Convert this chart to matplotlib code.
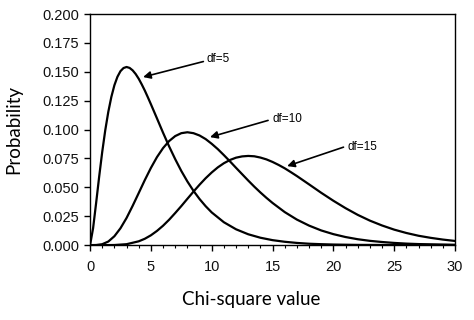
import matplotlib
matplotlib.use("Agg")
from matplotlib import pyplot as plt
from matplotlib.ticker import MultipleLocator, FormatStrFormatter

# 讀圖估計的卡方分佈曲線值
x5 = [0, 0.25, 0.5, 0.75, 1, 1.25, 1.5, 1.75, 2, 2.25, 2.5, 2.75, 3, 3.25, 3.5, 3.75,
      4, 4.25, 4.5, 4.75, 5, 5.5, 6, 6.5, 7, 7.5, 8, 8.5, 9, 9.5,
      10, 11, 12, 13, 14, 15, 16, 17, 18, 19, 20, 22, 25, 30]
y5 = [0.0, 0.0147, 0.0366, 0.0594, 0.0807, 0.0995, 0.1154, 0.1283, 0.1384, 0.1457,
      0.1506, 0.1533, 0.1542, 0.1534, 0.1513, 0.1481, 0.1440, 0.1391, 0.1338, 0.1280,
      0.1220, 0.1097, 0.0973, 0.0854, 0.0744, 0.0642, 0.0551, 0.0470, 0.0399, 0.0337,
      0.0283, 0.0198, 0.0137, 0.0094, 0.0064, 0.0043, 0.0029, 0.0019, 0.0012, 0.0008,
      0.0005, 0.0002, 0.0001, 0.0]

x10 = [0, 0.5, 1, 1.5, 2, 2.5, 3, 3.5, 4, 4.5, 5, 5.5, 6, 6.5, 7, 7.5, 8, 8.5, 9, 9.5,
       10, 10.5, 11, 11.5, 12, 12.5, 13, 13.5, 14, 14.5, 15, 16, 17, 18, 19, 20,
       21, 22, 23, 24, 25, 26, 27, 28, 29, 30]
y10 = [0.0, 0.0001, 0.0008, 0.0031, 0.0077, 0.0146, 0.0235, 0.0340, 0.0451, 0.0563,
       0.0668, 0.0762, 0.0840, 0.0901, 0.0944, 0.0969, 0.0977, 0.0969, 0.0949, 0.0918,
       0.0877, 0.0831, 0.0779, 0.0725, 0.0669, 0.0614, 0.0559, 0.0506, 0.0456, 0.0409,
       0.0365, 0.0286, 0.0221, 0.0169, 0.0127, 0.0095,
       0.0070, 0.0051, 0.0037, 0.0027, 0.0019, 0.0013, 0.0009, 0.0007, 0.0005, 0.0003]

x15 = [0, 1, 2, 3, 4, 4.5, 5, 5.5, 6, 6.5, 7, 7.5, 8, 8.5, 9, 9.5, 10, 10.5, 11, 11.5,
       12, 12.5, 13, 13.5, 14, 14.5, 15, 15.5, 16, 16.5, 17, 18, 19, 20,
       21, 22, 23, 24, 25, 26, 27, 28, 29, 30]
y15 = [0.0, 0.0, 0.0001, 0.0008, 0.0033, 0.0055, 0.0085, 0.0123, 0.0168, 0.0220,
       0.0278, 0.0338, 0.0401, 0.0463, 0.0523, 0.0579, 0.0629, 0.0673, 0.0709, 0.0737,
       0.0757, 0.0768, 0.0772, 0.0769, 0.0758, 0.0742, 0.0720, 0.0694, 0.0665, 0.0632,
       0.0598, 0.0526, 0.0453, 0.0384,
       0.0320, 0.0262, 0.0212, 0.0170, 0.0134, 0.0105, 0.0081, 0.0063, 0.0048, 0.0036]

labels = ["df=5", "df=10", "df=15"]

plt.rcParams['font.family'] = ['Liberation Sans', 'DejaVu Sans']

fig = plt.figure(figsize=(4.74, 3.2), dpi=100)
ax = fig.add_axes([0.19, 0.234, 0.77, 0.722])

for xs, ys in [(x5, y5), (x10, y10), (x15, y15)]:
    ax.plot(xs, ys, color='black', linewidth=1.6, solid_joinstyle='round')

ax.set_xlim(0, 30)
ax.set_ylim(0, 0.2)
ax.xaxis.set_major_locator(MultipleLocator(5))
ax.xaxis.set_minor_locator(MultipleLocator(1))
ax.yaxis.set_major_locator(MultipleLocator(0.025))
ax.yaxis.set_major_formatter(FormatStrFormatter('%.3f'))
ax.tick_params(axis='both', which='major', length=4, width=1, labelsize=10.5, pad=4,
               labelcolor='#111111')
ax.tick_params(axis='x', which='major', pad=7)
ax.tick_params(axis='x', which='minor', length=2.5, width=0.8)
for s in ax.spines.values():
    s.set_linewidth(1.0)

ax.set_xlabel("Chi-square value", fontsize=13.5, family='Lato')
ax.xaxis.set_label_coords(0.441, -0.2)
ax.set_ylabel("Probability", fontsize=13.5, family='Lato', labelpad=14)

# 箭頭標註
arrow = dict(arrowstyle='-|>', color='black', lw=1.2, mutation_scale=11, shrinkA=0, shrinkB=0)
ax.annotate(labels[0], xy=(4.36, 0.1455), xytext=(9.6, 0.161), fontsize=8.5,
            va='center', ha='left', arrowprops=dict(arrow, relpos=(-0.15, 0.3)))
ax.annotate(labels[1], xy=(9.86, 0.0935), xytext=(15.0, 0.109), fontsize=8.5,
            va='center', ha='left', arrowprops=dict(arrow, relpos=(-0.15, 0.4)))
ax.annotate(labels[2], xy=(16.2, 0.0684), xytext=(21.2, 0.0848), fontsize=8.5,
            va='center', ha='left', arrowprops=dict(arrow, relpos=(-0.15, 0.5)))

fig.savefig("out.png", dpi=100)
